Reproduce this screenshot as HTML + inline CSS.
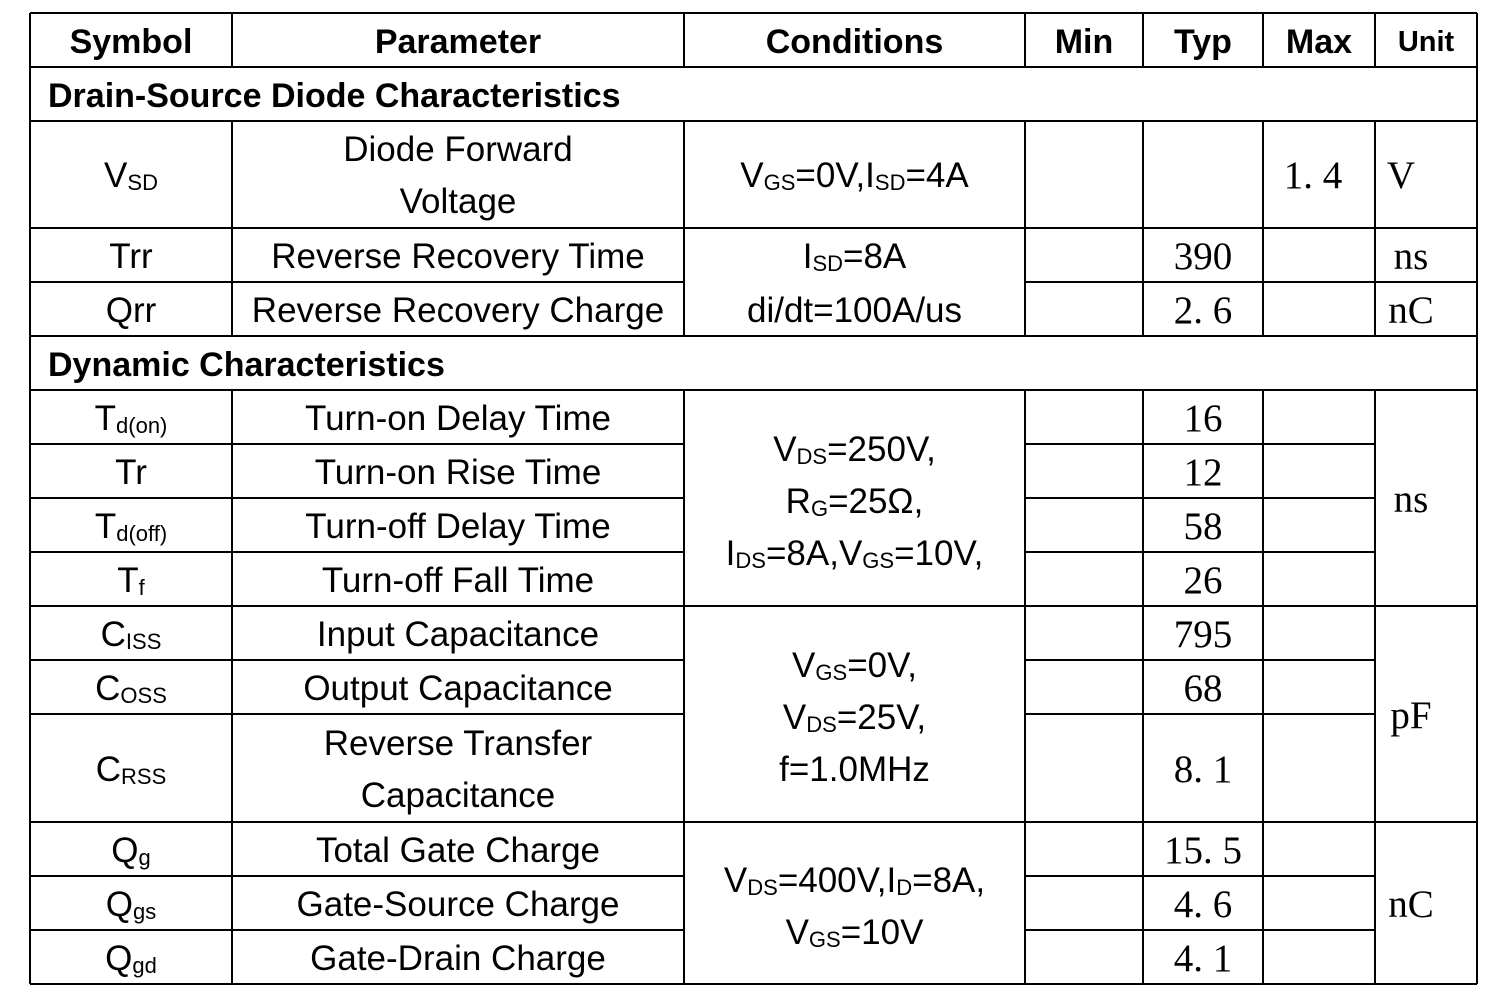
<!DOCTYPE html>
<html><head><meta charset="utf-8"><style>
body{margin:0;width:1500px;height:1002px;background:#fff;position:relative;overflow:hidden;font-family:"Liberation Sans",sans-serif;color:#000}
.c{position:absolute;display:flex;align-items:center;justify-content:center;text-align:center;font-size:35px;line-height:52px;box-sizing:border-box;padding-top:3px}
.c>span{display:block}
.h{font-weight:bold;font-size:34px}
.s{font-family:"Liberation Serif",serif;font-size:39px}
.sec{position:absolute;left:48px;font-weight:bold;font-size:34px}
sub{font-size:22px;vertical-align:baseline;position:relative;top:3px;line-height:0}
</style></head><body>
<svg width="1500" height="1002" style="position:absolute;left:0;top:0" stroke="#000" stroke-width="2">
<g>
<line x1="30" y1="13" x2="1477" y2="13"/>
<line x1="30" y1="67" x2="1477" y2="67"/>
<line x1="30" y1="121" x2="1477" y2="121"/>
<line x1="30" y1="228" x2="1477" y2="228"/>
<line x1="30" y1="282" x2="684" y2="282"/>
<line x1="1025" y1="282" x2="1477" y2="282"/>
<line x1="30" y1="336" x2="1477" y2="336"/>
<line x1="30" y1="390" x2="1477" y2="390"/>
<line x1="30" y1="444" x2="684" y2="444"/><line x1="1025" y1="444" x2="1375" y2="444"/>
<line x1="30" y1="498" x2="684" y2="498"/><line x1="1025" y1="498" x2="1375" y2="498"/>
<line x1="30" y1="552" x2="684" y2="552"/><line x1="1025" y1="552" x2="1375" y2="552"/>
<line x1="30" y1="606" x2="1477" y2="606"/>
<line x1="30" y1="660" x2="684" y2="660"/><line x1="1025" y1="660" x2="1375" y2="660"/>
<line x1="30" y1="714" x2="684" y2="714"/><line x1="1025" y1="714" x2="1375" y2="714"/>
<line x1="30" y1="822" x2="1477" y2="822"/>
<line x1="30" y1="876" x2="684" y2="876"/><line x1="1025" y1="876" x2="1375" y2="876"/>
<line x1="30" y1="930" x2="684" y2="930"/><line x1="1025" y1="930" x2="1375" y2="930"/>
<line x1="30" y1="984" x2="1477" y2="984"/>
<line x1="30" y1="13" x2="30" y2="984"/>
<line x1="1477" y1="13" x2="1477" y2="984"/>
<line x1="232" y1="13" x2="232" y2="67"/><line x1="684" y1="13" x2="684" y2="67"/><line x1="1025" y1="13" x2="1025" y2="67"/><line x1="1143" y1="13" x2="1143" y2="67"/><line x1="1263" y1="13" x2="1263" y2="67"/><line x1="1375" y1="13" x2="1375" y2="67"/>
<line x1="232" y1="121" x2="232" y2="336"/><line x1="684" y1="121" x2="684" y2="336"/><line x1="1025" y1="121" x2="1025" y2="336"/><line x1="1143" y1="121" x2="1143" y2="336"/><line x1="1263" y1="121" x2="1263" y2="336"/><line x1="1375" y1="121" x2="1375" y2="336"/>
<line x1="232" y1="390" x2="232" y2="984"/><line x1="684" y1="390" x2="684" y2="984"/><line x1="1025" y1="390" x2="1025" y2="984"/><line x1="1143" y1="390" x2="1143" y2="984"/><line x1="1263" y1="390" x2="1263" y2="984"/><line x1="1375" y1="390" x2="1375" y2="984"/>
</g></svg>

<div class="c h" style="left:30px;width:202px;top:13px;height:54px"><span>Symbol</span></div>
<div class="c h" style="left:232px;width:452px;top:13px;height:54px"><span>Parameter</span></div>
<div class="c h" style="left:684px;width:341px;top:13px;height:54px"><span>Conditions</span></div>
<div class="c h" style="left:1025px;width:118px;top:13px;height:54px"><span>Min</span></div>
<div class="c h" style="left:1143px;width:120px;top:13px;height:54px"><span>Typ</span></div>
<div class="c h" style="left:1263px;width:112px;top:13px;height:54px"><span>Max</span></div>
<div class="c h" style="left:1375px;width:102px;top:13px;height:54px;font-size:29px"><span>Unit</span></div>

<div class="sec" style="top:77px">Drain-Source Diode Characteristics</div>
<div class="c" style="left:30px;width:202px;top:121px;height:107px"><span>V<sub>SD</sub></span></div>
<div class="c" style="left:232px;width:452px;top:121px;height:107px"><span>Diode Forward<br>Voltage</span></div>
<div class="c" style="left:684px;width:341px;top:121px;height:107px"><span>V<sub>GS</sub>=0V,I<sub>SD</sub>=4A</span></div>
<div class="c s" style="left:1263px;width:100px;top:121px;height:107px"><span>1.&nbsp;4</span></div>
<div class="c s" style="left:1375px;width:52px;top:121px;height:107px"><span>V</span></div>

<div class="c" style="left:30px;width:202px;top:228px;height:54px"><span>Trr</span></div>
<div class="c" style="left:232px;width:452px;top:228px;height:54px"><span>Reverse Recovery Time</span></div>
<div class="c" style="left:684px;width:341px;top:228px;height:54px"><span>I<sub>SD</sub>=8A</span></div>
<div class="c s" style="left:1143px;width:120px;top:228px;height:54px"><span>390</span></div>
<div class="c s" style="left:1375px;width:72px;top:228px;height:54px"><span>ns</span></div>
<div class="c" style="left:30px;width:202px;top:282px;height:54px"><span>Qrr</span></div>
<div class="c" style="left:232px;width:452px;top:282px;height:54px"><span>Reverse Recovery Charge</span></div>
<div class="c" style="left:684px;width:341px;top:282px;height:54px"><span>di/dt=100A/us</span></div>
<div class="c s" style="left:1143px;width:120px;top:282px;height:54px"><span>2.&nbsp;6</span></div>
<div class="c s" style="left:1375px;width:72px;top:282px;height:54px"><span>nC</span></div>

<div class="sec" style="top:346px">Dynamic Characteristics</div>
<div class="c" style="left:30px;width:202px;top:390px;height:54px"><span>T<sub>d(on)</sub></span></div>
<div class="c" style="left:232px;width:452px;top:390px;height:54px"><span>Turn-on Delay Time</span></div>
<div class="c s" style="left:1143px;width:120px;top:390px;height:54px"><span>16</span></div>
<div class="c" style="left:30px;width:202px;top:444px;height:54px"><span>Tr</span></div>
<div class="c" style="left:232px;width:452px;top:444px;height:54px"><span>Turn-on Rise Time</span></div>
<div class="c s" style="left:1143px;width:120px;top:444px;height:54px"><span>12</span></div>
<div class="c" style="left:30px;width:202px;top:498px;height:54px"><span>T<sub>d(off)</sub></span></div>
<div class="c" style="left:232px;width:452px;top:498px;height:54px"><span>Turn-off Delay Time</span></div>
<div class="c s" style="left:1143px;width:120px;top:498px;height:54px"><span>58</span></div>
<div class="c" style="left:30px;width:202px;top:552px;height:54px"><span>T<sub>f</sub></span></div>
<div class="c" style="left:232px;width:452px;top:552px;height:54px"><span>Turn-off Fall Time</span></div>
<div class="c s" style="left:1143px;width:120px;top:552px;height:54px"><span>26</span></div>
<div class="c" style="left:684px;width:341px;top:420px;height:160px"><span>V<sub>DS</sub>=250V,<br>R<sub>G</sub>=25Ω,<br>I<sub>DS</sub>=8A,V<sub>GS</sub>=10V,</span></div>
<div class="c s" style="left:1375px;width:72px;top:390px;height:216px"><span>ns</span></div>

<div class="c" style="left:30px;width:202px;top:606px;height:54px"><span>C<sub>ISS</sub></span></div>
<div class="c" style="left:232px;width:452px;top:606px;height:54px"><span>Input Capacitance</span></div>
<div class="c s" style="left:1143px;width:120px;top:606px;height:54px"><span>795</span></div>
<div class="c" style="left:30px;width:202px;top:660px;height:54px"><span>C<sub>OSS</sub></span></div>
<div class="c" style="left:232px;width:452px;top:660px;height:54px"><span>Output Capacitance</span></div>
<div class="c s" style="left:1143px;width:120px;top:660px;height:54px"><span>68</span></div>
<div class="c" style="left:30px;width:202px;top:714px;height:108px"><span>C<sub>RSS</sub></span></div>
<div class="c" style="left:232px;width:452px;top:714px;height:108px"><span>Reverse Transfer<br>Capacitance</span></div>
<div class="c s" style="left:1143px;width:120px;top:714px;height:108px"><span>8.&nbsp;1</span></div>
<div class="c" style="left:684px;width:341px;top:636px;height:160px"><span>V<sub>GS</sub>=0V,<br>V<sub>DS</sub>=25V,<br>f=1.0MHz</span></div>
<div class="c s" style="left:1375px;width:72px;top:606px;height:216px"><span>pF</span></div>

<div class="c" style="left:30px;width:202px;top:822px;height:54px"><span>Q<sub>g</sub></span></div>
<div class="c" style="left:232px;width:452px;top:822px;height:54px"><span>Total Gate Charge</span></div>
<div class="c s" style="left:1143px;width:120px;top:822px;height:54px"><span>15.&nbsp;5</span></div>
<div class="c" style="left:30px;width:202px;top:876px;height:54px"><span>Q<sub>gs</sub></span></div>
<div class="c" style="left:232px;width:452px;top:876px;height:54px"><span>Gate-Source Charge</span></div>
<div class="c s" style="left:1143px;width:120px;top:876px;height:54px"><span>4.&nbsp;6</span></div>
<div class="c" style="left:30px;width:202px;top:930px;height:54px"><span>Q<sub>gd</sub></span></div>
<div class="c" style="left:232px;width:452px;top:930px;height:54px"><span>Gate-Drain Charge</span></div>
<div class="c s" style="left:1143px;width:120px;top:930px;height:54px"><span>4.&nbsp;1</span></div>
<div class="c" style="left:684px;width:341px;top:852px;height:106px"><span>V<sub>DS</sub>=400V,I<sub>D</sub>=8A,<br>V<sub>GS</sub>=10V</span></div>
<div class="c s" style="left:1375px;width:72px;top:822px;height:162px"><span>nC</span></div>
</body></html>
